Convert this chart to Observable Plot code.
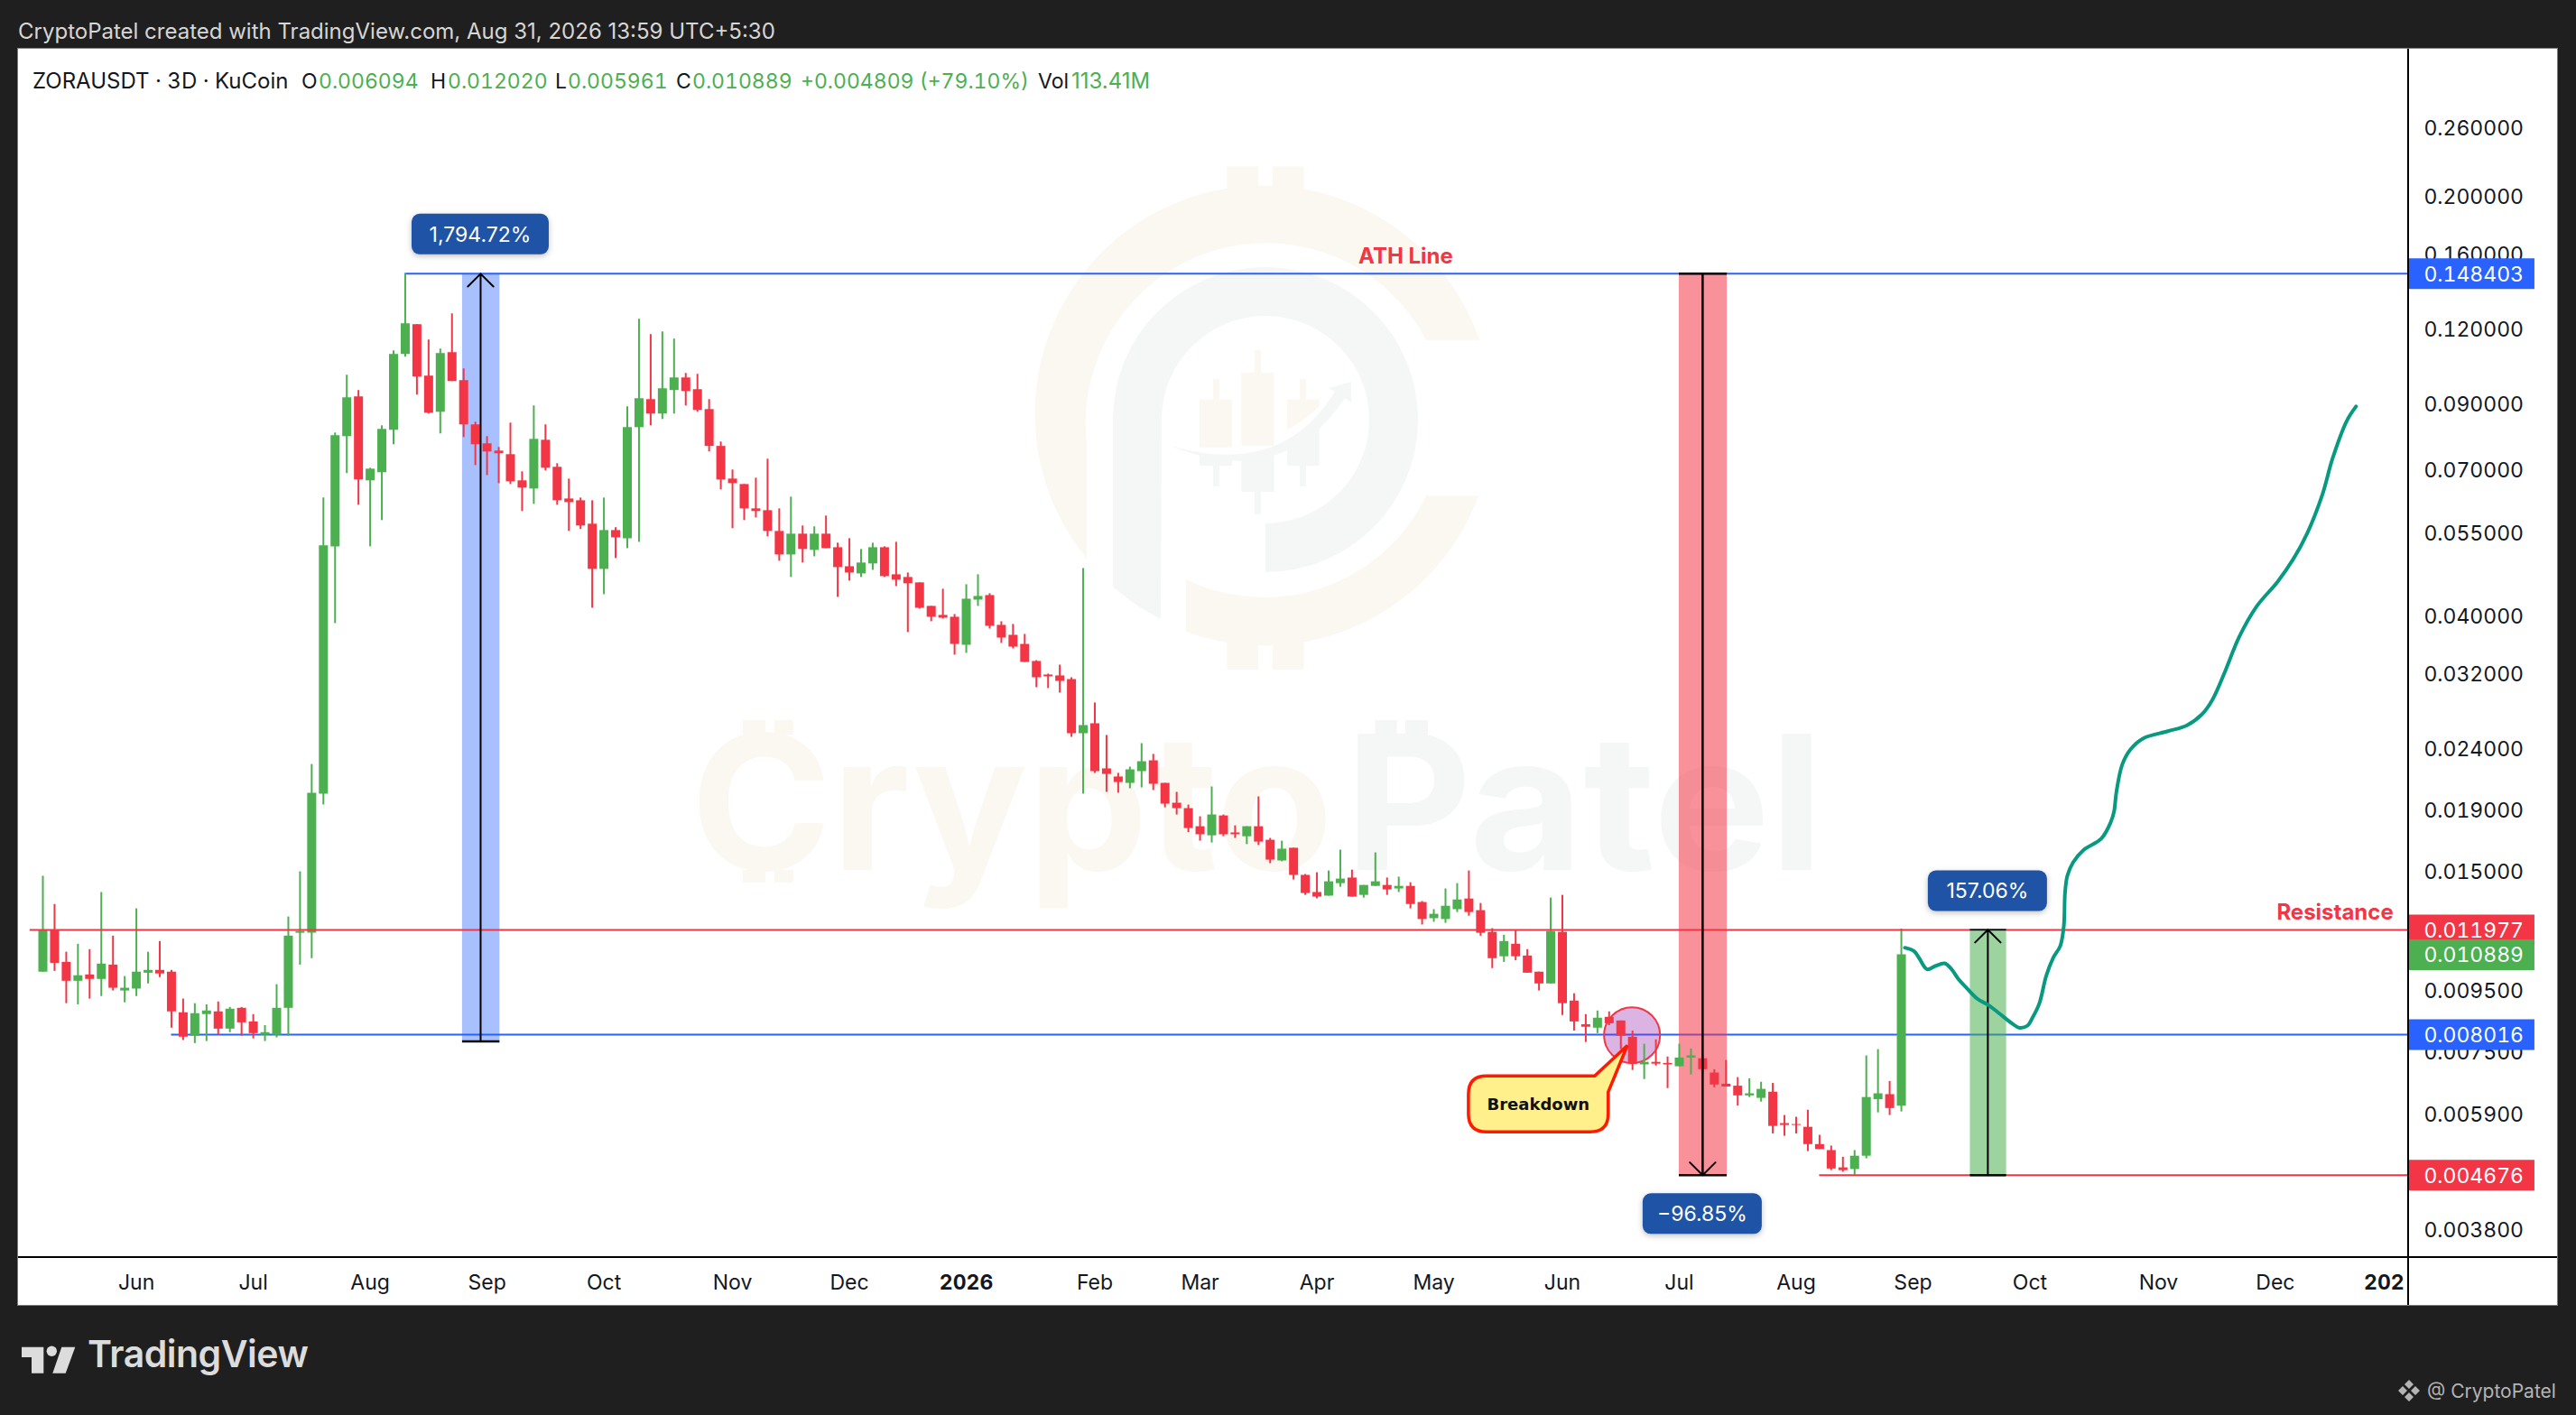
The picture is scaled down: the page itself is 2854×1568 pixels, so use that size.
<!DOCTYPE html>
<html><head><meta charset="utf-8">
<script src="https://cdn.jsdelivr.net/npm/d3@7"></script>
<script src="https://cdn.jsdelivr.net/npm/@observablehq/plot@0.6"></script>
<style>
html,body{margin:0;padding:0;background:#1f1f1f;width:2854px;height:1568px;overflow:hidden;font-family:Inter,sans-serif}
#panel{position:absolute;left:20px;top:54px;width:2813px;height:1392px;background:#fff;box-shadow:0 0 0 1px #7a7a7a}
.abs{position:absolute;white-space:nowrap}
.h{top:76px;font-size:23px;line-height:28px;color:#131722;font-variant-numeric:tabular-nums}
.n{font-size:24px}
.g{color:#4caf50}
#chart{position:absolute;left:0;top:0}
#bg{position:absolute;left:0;top:0}
.line{position:absolute;background:#000}
</style></head><body>
<div id="panel"></div>
<svg id="bg" width="2854" height="1568" viewBox="0 0 2854 1568">
 <g fill="#fbf8f1">
  <path d="M1580,376.7 L1639,376.7 A253,253 0 1 0 1204,619 L1204,492 A200,200 0 0 1 1580,376.7 Z"/>
  <path d="M1580,549.5 L1638,549.5 A253,253 0 0 1 1314,700 L1314,642 A199,199 0 0 0 1580,549.5 Z"/>
  <rect x="1359.5" y="184.5" width="34.5" height="32"/><rect x="1410" y="184.5" width="34.5" height="32"/>
  <rect x="1359.5" y="710" width="34.5" height="32"/><rect x="1410" y="710" width="34.5" height="32"/>
  <rect x="1329" y="442.7" width="36" height="53"/><rect x="1344" y="420" width="7" height="23"/>
  <rect x="1375.5" y="413" width="36" height="81"/><rect x="1390" y="388" width="7" height="25"/>
  <path d="M1426,442.7 H1461.6 V450 Q1445,467 1426,476 Z"/><rect x="1440" y="420" width="7" height="23"/>
  <rect x="823" y="798" width="25" height="16"/><rect x="858" y="798" width="21" height="16"/>
  <rect x="823" y="964" width="25" height="14"/><rect x="858" y="964" width="21" height="14"/>
 </g>
 <g fill="#f5f6f6">
  <path d="M1233,650 L1233,465 A169,169 0 1 1 1402,634 L1402,580 A115,115 0 1 0 1287,465 L1286,686 Q1255,670 1233,650 Z"/>
  <rect x="1329" y="504" width="36" height="12"/><rect x="1344" y="516" width="7" height="23"/>
  <rect x="1375.5" y="504" width="36" height="41"/><rect x="1390" y="545" width="7" height="25"/>
  <path d="M1426,490 Q1445,484 1461.6,472 V516 H1426 Z"/><rect x="1440" y="516" width="7" height="23"/>
  <path d="M1297,494 Q1420,530 1479,434 L1472,430 L1497,423 L1497,446 L1490,441 Q1420,545 1297,494 Z"/>
  <rect x="1523.6" y="798" width="24" height="16"/><rect x="1557" y="798" width="25" height="16"/>
 </g>
 <text x="765" y="964" font-family="Inter" font-weight="700" font-size="208" fill="#fbf8f1" textLength="712" lengthAdjust="spacingAndGlyphs">Crypto</text>
 <text x="1490" y="964" font-family="Inter" font-weight="700" font-size="208" fill="#f5f6f6" textLength="530" lengthAdjust="spacingAndGlyphs">Patel</text>
 <g fill="#dcdcdc">
  <path d="M24,1492.7 H48.3 V1521.7 H35 V1504 H24 Z"/><circle cx="57.3" cy="1497.3" r="5.7"/>
  <path d="M68.3,1492.7 H83.3 L72.7,1521.7 H58.3 Z"/>
 </g>
 <g fill="#b4b4b4">
  <path d="M2669,1529 l5,5 l-5,5 l-5,-5 Z M2669,1543 l5,5 l-5,5 l-5,-5 Z M2662,1536 l5,5 l-5,5 l-5,-5 Z M2676,1536 l5,5 l-5,5 l-5,-5 Z"/>
 </g>
</svg>
<div class="abs" style="left:20px;top:21px;font-size:24px;line-height:28px;color:#d6d6d6">CryptoPatel created with TradingView.com, Aug 31, 2026 13:59 UTC+5:30</div>
<div class="abs h n" style="left:36px">ZORAUSDT · 3D · KuCoin</div>
<div class="abs h" style="left:334px">O</div><div class="abs h g" style="left:353px">0.006094</div>
<div class="abs h" style="left:477px">H</div><div class="abs h g" style="left:496px">0.012020</div>
<div class="abs h" style="left:615px">L</div><div class="abs h g" style="left:629px">0.005961</div>
<div class="abs h" style="left:749px">C</div><div class="abs h g" style="left:767px">0.010889</div>
<div class="abs h g" style="left:887px">+0.004809 (+79.10%)</div>
<div class="abs h" style="left:1150px">Vol</div><div class="abs h g n" style="left:1187px;font-variant-numeric:normal">113.41M</div>
<div class="abs" style="left:97px;top:1475px;font-size:41px;line-height:50px;font-weight:600;color:#dcdcdc;letter-spacing:-.5px">TradingView</div>
<div class="abs" style="left:2689px;top:1527px;font-size:21px;line-height:30px;color:#b4b4b4">@ CryptoPatel</div>
<div id="chart"></div>
<div class="line" style="left:2667px;top:54px;width:2px;height:1392px"></div>
<div class="line" style="left:20px;top:1392px;width:2813px;height:2px"></div>
<script>
const open = [.01019,.01195,.01058,.00984,.01008,.00991,.01047,.00948,.00955,.01015,.01026,.01019,.00872,.00797,.00866,.00875,.00819,.00887,.00842,.00800,.00800,.00887,.01183,.01183,.02017,.05208,.07947,.09255,.06707,.06920,.08143,.10892,.12209,.10023,.08725,.10967,.09851,.08313,.07730,.07519,.07415,.06707,.06500,.07837,.07065,.06257,.06214,.05680,.04776,.05543,.05373,.08226,.09159,.08666,.09484,.09953,.09515,.08816,.07654,.06753,.06613,.06024,.05982,.05524,.05048,.05467,.05137,.05467,.05190,.04825,.04694,.04877,.05190,.04678,.04630,.04535,.04144,.04003,.03975,.03570,.04245,.04320,.03853,.03709,.03582,.03355,.03185,.03174,.03130,.02543,.02642,.02222,.02154,.02102,.02199,.02292,.02102,.01948,.01908,.01780,.01719,.01855,.01738,.01713,.01780,.01690,.01561,.01639,.01477,.01383,.01364,.01431,.01462,.01368,.01416,.01421,.01402,.01416,.01331,.01251,.01247,.01295,.01349,.01290,.01187,.01081,.01134,.01084,.01019,.00974,.01187,.00912,.00833,.00822,.00857,.00845,.00794,.00714,.00721,.00718,.00709,.00733,.00731,.00692,.00663,.00658,.00634,.00628,.00643,.00570,.00568,.00562,.00526,.00514,.00481,.00478,.00503,.00625,.00637,.006094];
const high = [.01472,.01321,.01100,.01134,.01111,.01383,.01170,.01002,.01299,.01100,.01146,.01026,.00919,.00903,.00899,.00909,.00890,.00890,.00866,.00830,.00971,.01259,.01497,.02260,.06279,.08058,.10057,.09484,.07040,.08284,.11040,.14840,.12209,.11512,.11118,.12727,.10304,.08399,.07947,.07624,.08370,.06943,.08940,.08313,.07163,.06753,.06279,.06214,.06279,.05604,.08909,.12465,.11753,.11875,.11553,.10127,.10092,.09159,.07784,.06991,.06613,.06776,.07288,.06024,.06301,.05641,.05622,.05860,.05281,.05373,.05155,.05281,.05208,.05299,.04710,.04535,.04144,.04426,.04017,.04503,.04678,.04350,.03907,.03867,.03722,.03366,.03196,.03308,.03152,.04792,.02861,.02526,.02184,.02237,.02448,.02349,.02102,.02031,.01934,.01849,.02073,.01862,.01786,.01780,.01996,.01702,.01684,.01639,.01482,.01492,.01502,.01627,.01507,.01421,.01610,.01462,.01467,.01436,.01336,.01295,.01402,.01431,.01502,.01326,.01204,.01174,.01195,.01111,.01019,.01354,.01368,.00938,.00866,.00878,.00875,.00845,.00813,.00773,.00786,.00736,.00773,.00759,.00739,.00701,.00726,.00680,.00677,.00668,.00665,.00588,.00584,.00600,.00545,.00523,.00501,.00514,.00739,.00757,.00670,.01202];
const low = [.01019,.01022,.00903,.00899,.00919,.00928,.00948,.00906,.00928,.00974,.00998,.00822,.00784,.00775,.00781,.00800,.00808,.00797,.00789,.00781,.00792,.00797,.01047,.01073,.01934,.03880,.06896,.06108,.05208,.05759,.07703,.10780,.09320,.08666,.08030,.09817,.07919,.07113,.06846,.06636,.06613,.05962,.06129,.06967,.06108,.05524,.05565,.04115,.04335,.04979,.05172,.05299,.08284,.08487,.08666,.08940,.08725,.07493,.06478,.05584,.05759,.05819,.05410,.04928,.04630,.04894,.05013,.05172,.04290,.04566,.04630,.04759,.04630,.04472,.03748,.04101,.03907,.03948,.03437,.03461,.04144,.03800,.03595,.03521,.03343,.03034,.03024,.02972,.02508,.02017,.02184,.02031,.02024,.02059,.02066,.02045,.01914,.01862,.01740,.01684,.01672,.01713,.01702,.01662,.01656,.01545,.01556,.01451,.01368,.01350,.01364,.01411,.01359,.01354,.01416,.01368,.01383,.01299,.01221,.01234,.01229,.01281,.01263,.01170,.01033,.01058,.01065,.01015,.00948,.00974,.00863,.00813,.00778,.00805,.00830,.00757,.00699,.00675,.00711,.00652,.00709,.00687,.00689,.00654,.00656,.00610,.00630,.00619,.00548,.00543,.00548,.00512,.00516,.00476,.00473,.004676,.00498,.00594,.00588,.005961];
const close = [.01195,.01054,.00984,.01005,.00991,.01051,.00958,.00958,.01019,.01026,.01012,.00875,.00794,.00869,.00878,.00819,.00884,.00839,.00805,.00808,.00887,.01170,.01191,.02024,.05227,.07975,.09223,.06730,.07015,.08171,.10892,.12251,.09988,.08695,.10930,.09817,.08313,.07703,.07493,.07441,.06683,.06523,.07864,.07040,.06214,.06170,.05641,.04776,.05543,.05391,.08226,.09191,.08666,.09548,.09953,.09449,.08786,.07654,.06730,.06636,.06024,.05962,.05524,.05048,.05467,.05155,.05467,.05172,.04809,.04710,.04894,.05190,.04646,.04582,.04519,.04115,.03975,.03961,.03582,.04260,.04305,.03840,.03670,.03545,.03343,.03152,.03163,.03108,.02543,.02624,.02199,.02176,.02109,.02214,.02284,.02095,.01941,.01908,.01768,.01726,.01862,.01726,.01726,.01780,.01678,.01566,.01633,.01477,.01378,.01359,.01441,.01456,.01359,.01421,.01441,.01397,.01416,.01321,.01247,.01272,.01312,.01344,.01281,.01183,.01073,.01146,.01081,.01015,.00974,.01191,.00903,.00842,.00825,.00854,.00836,.00797,.00716,.00721,.00716,.00714,.00733,.00739,.00701,.00661,.00656,.00634,.00639,.00650,.00564,.00566,.00566,.00526,.00516,.00479,.00476,.00503,.00630,.00639,.00604,.010889];

const forecastBar = [159.3,160.1,160.5,161.2,161.9,162.7,163.3,163.9,164.5,165.5,166.4,167.3,168.5,169.1,169.8,170.2,170.8,171.4,172,172.6,172.9,173,173.2,173.7,174.6,176.1,176.9,177.2,177.4,177.9,178.6,179.7,181.8,183.4,184.7,185.6,186.6,187.9,189.4,191.2,192.5,193.7,195,195.9,197.1,197.9];
const forecastPrice = [.01119,.01104,.01077,.01030,.01043,.01054,.01030,.00991,.00963,.00920,.00899,.00872,.00836,.00823,.00830,.00854,.00903,.01005,.01077,.01127,.01217,.01378,.01474,.01553,.01629,.01700,.01808,.01888,.02034,.02260,.02394,.02498,.02567,.02624,.02737,.02894,.03195,.03684,.04144,.04557,.04957,.05473,.06345,.07317,.08436,.08921];

const priceTicks = [.26,.2,.16,.12,.09,.07,.055,.04,.032,.024,.019,.015,.0095,.0075,.0059,.0038];
const monthBars = [8,18,28,38,48,59,69,90,99,109,119,130,140,150,160,170,181,191];
const monthLabels = ["Jun","Jul","Aug","Sep","Oct","Nov","Dec","Feb","Mar","Apr","May","Jun","Jul","Aug","Sep","Oct","Nov","Dec"];
const yearBars = [79,200.3];
const yearLabels = ["2026","202"];

const ATH = .148403, RESIST = .011977, SUPPORT = .008016, LOW = .004676, LAST = .010889;
const tagPrices = [ATH, RESIST, LAST, SUPPORT, LOW];
const tagColors = ["#2962ff","#f23645","#4caf50","#2962ff","#f23645"];

const rangeFrom = [35.9,140,164.9], rangeTo = [39.1,144.1,168], rangeMid = [37.45,142,166.4];
const rangeBottom = [.00781,LOW,LOW], rangeTop = [ATH,ATH,.01199];
const rangeFill = ["#2962ff","#f23645","#4caf50"], rangeOpacity = [.4,.55,.55];
const rangeUp = [true,false,true];
const rangeLabels = ["1,794.72%","−96.85%","157.06%"];
const pillAnchor = [ATH,LOW,RESIST], pillDy = [-43.5,43,-43], pillW = [152,132,132];
const topBarWidth = [0,2.5,1.5];

const GREEN="#4caf50", RED="#f23645", TEAL="#089981", PILL="#1e53a5";
const bars = open.map((o,i)=>({i,o,h:high[i],l:low[i],c:close[i],col:close[i]>=o?GREEN:RED}));
const forecast = forecastBar.map((b,i)=>({b,p:forecastPrice[i]}));
const ranges = rangeFrom.map((a,i)=>({a,b:rangeTo[i],m:rangeMid[i],lo:rangeBottom[i],hi:rangeTop[i],f:rangeFill[i],op:rangeOpacity[i],up:rangeUp[i],tw:topBarWidth[i]}));
const fmt = d=>d.toFixed(6);
const rightEdge = 202.317, tagEnd = 213.2, tagText = 203.7;

function pills(idx,s){
  const g=d3.create("svg:g");
  ranges.forEach((r,i)=>{
    const cx=s.x(r.m), cy=s.y(pillAnchor[i])+pillDy[i], w=pillW[i], h=45;
    g.append("rect").attr("x",cx-w/2).attr("y",cy-h/2).attr("width",w).attr("height",h).attr("rx",9)
     .attr("fill",PILL).style("filter","drop-shadow(0 2px 3px rgba(0,0,0,.25))");
    g.append("text").attr("x",cx).attr("y",cy).attr("dy","0.36em").attr("text-anchor","middle")
     .attr("fill","#fff").attr("font-size",23).text(rangeLabels[i]);
  });
  return g.node();
}
const calloutBar=[122,133.96,132.8,135.6], calloutPrice=[.00683,.00551,.00768,.00642];
function callout(idx,s){
  const x0=s.x(calloutBar[0]),x1=s.x(calloutBar[1]),bx=s.x(calloutBar[2]),tx=s.x(calloutBar[3]);
  const y0=s.y(calloutPrice[0]),y1=s.y(calloutPrice[1]),ty=s.y(calloutPrice[2]),by=s.y(calloutPrice[3]),r=20;
  const d=`M${x0+r},${y0}L${bx},${y0}L${tx},${ty}L${x1},${by}L${x1},${y1-r}Q${x1},${y1} ${x1-r},${y1}L${x0+r},${y1}Q${x0},${y1} ${x0},${y1-r}L${x0},${y0+r}Q${x0},${y0} ${x0+r},${y0}Z`;
  const g=d3.create("svg:g");
  g.append("path").attr("d",d).attr("fill","#fff08c").attr("stroke","#ff1a00").attr("stroke-width",3.5);
  g.append("text").attr("x",(x0+x1)/2).attr("y",(y0+y1)/2).attr("dy","0.36em").attr("text-anchor","middle")
   .attr("font-family","DejaVu Sans").attr("font-weight",700).attr("font-size",18).attr("fill","#111").text("Breakdown");
  return g.node();
}

const chart = Plot.plot({
  width:2854,height:1568,marginLeft:20,marginRight:187,marginTop:54,marginBottom:175,
  style:{background:"transparent",fontFamily:"Inter",overflow:"visible"},
  x:{domain:[-2.085,rightEdge]},
  y:{type:"log",domain:[.00341,.35117],axis:null},
  marks:[
    Plot.text(priceTicks,{x:tagText,y:d=>d,text:fmt,textAnchor:"start",fontSize:23,fontVariant:"tabular-nums",fill:"#131722",dy:1}),
    Plot.axisX({ticks:monthBars,tickFormat:d=>monthLabels[monthBars.indexOf(d)],tickSize:0,tickPadding:19,fontSize:23,label:null,fill:"#131722"}),
    Plot.axisX({ticks:yearBars,tickFormat:d=>yearLabels[yearBars.indexOf(d)],tickSize:0,tickPadding:19,fontSize:23,fontWeight:700,label:null,fill:"#131722"}),
    Plot.ruleY([{p:ATH,a:31}, {p:SUPPORT,a:11}],{y:"p",x1:"a",x2:rightEdge,stroke:"#2962ff",strokeWidth:2}),
    Plot.rectY(ranges,{x1:"a",x2:"b",y1:"lo",y2:"hi",fill:"f",fillOpacity:"op"}),
    Plot.dot([{b:135.96,p:.00800}],{x:"b",y:"p",r:31,fill:"#9c27b0",fillOpacity:.35,stroke:RED,strokeWidth:2}),
    Plot.ruleX(bars,{x:"i",y1:"l",y2:"h",stroke:"col",strokeWidth:2}),
    Plot.ruleX(bars,{x:"i",y1:"o",y2:"c",stroke:"col",strokeWidth:10}),
    Plot.ruleY([{p:RESIST,a:-1.1}, {p:LOW,a:152}],{y:"p",x1:"a",x2:rightEdge,stroke:RED,strokeWidth:2}),
    Plot.ruleY(ranges,{y:"lo",x1:"a",x2:"b",stroke:"#000",strokeWidth:2.5}),
    Plot.ruleY(ranges.filter(d=>d.tw>0),{y:"hi",x1:"a",x2:"b",stroke:"#000",strokeWidth:"tw"}),
    Plot.ruleX(ranges.filter(d=>!d.up),{x:"m",y1:"lo",y2:"hi",stroke:"#000",strokeWidth:2}),
    Plot.arrow(ranges,{x1:"m",x2:"m",y1:d=>d.up?d.lo:d.hi,y2:d=>d.up?d.hi:d.lo,bend:0,stroke:"#000",strokeWidth:2,headLength:15,headAngle:90}),
    Plot.line(forecast,{x:"b",y:"p",curve:"catmull-rom",stroke:TEAL,strokeWidth:4}),
    Plot.text([{b:116.6,p:ATH}],{x:"b",y:"p",text:()=>"ATH Line",dy:-19,fontSize:24,fontWeight:700,fill:RED}),
    Plot.text([{b:201.1,p:RESIST}],{x:"b",y:"p",text:()=>"Resistance",dy:-19,textAnchor:"end",fontSize:24,fontWeight:700,fill:RED}),
    callout,
    pills,
    ...tagPrices.flatMap((p,i)=>[
      Plot.ruleY([p],{x1:rightEdge+.1,x2:tagEnd,stroke:tagColors[i],strokeWidth:34}),
      Plot.text([p],{x:tagText,y:d=>d,text:fmt,textAnchor:"start",fontVariant:"tabular-nums",fill:"#fff",fontSize:23,dy:1})
    ])
  ]
});
document.getElementById("chart").appendChild(chart);
</script>
</body></html>
